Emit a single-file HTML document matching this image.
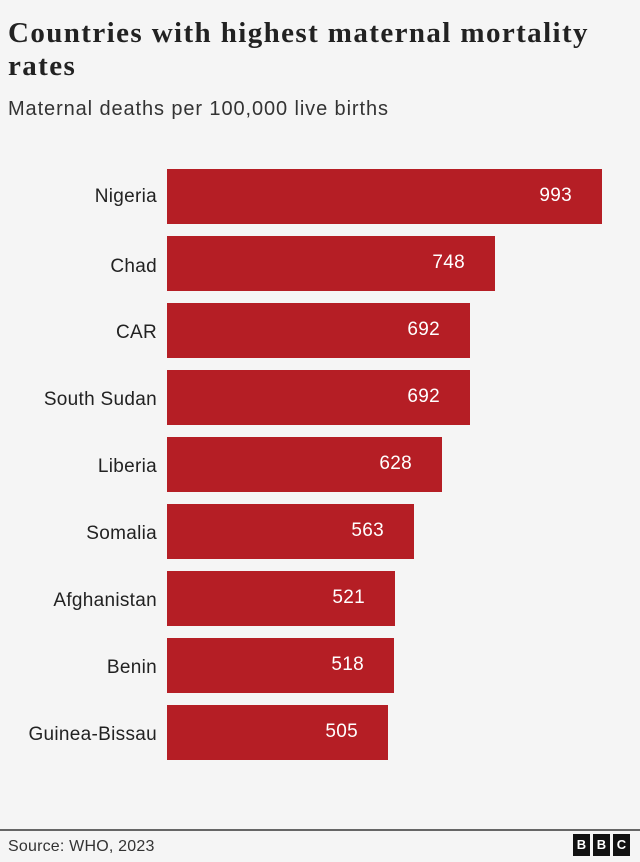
<!DOCTYPE html>
<html><head><meta charset="utf-8"><style>
body{margin:0;width:640px;height:862px;background:#f5f5f5;font-family:"Liberation Sans",sans-serif;position:relative;overflow:hidden}
.t{position:absolute;left:8px;top:17px;font-family:"Liberation Serif",serif;font-size:29px;line-height:33px;color:#222;font-weight:bold;letter-spacing:1.4px}
.s{position:absolute;left:8px;top:98px;font-size:20px;color:#333;letter-spacing:0.9px}
.l{position:absolute;right:483px;font-size:19px;color:#222;text-align:right;white-space:nowrap;letter-spacing:0.3px}
.b{position:absolute;left:167px;height:55px;background:#b51e25}
.v{position:absolute;right:30px;top:16px;color:#fff;font-size:19px;letter-spacing:0.3px}
.line{position:absolute;left:0;width:640px;top:829px;height:2px;background:#666}
.src{position:absolute;left:8px;top:838px;font-size:16px;color:#333;letter-spacing:0.2px}
.bbc{position:absolute;top:834px;width:17px;height:22px;background:#111;color:#fff;font-weight:bold;font-size:13px;text-align:center;line-height:22px}
</style></head><body>
<div class="t">Countries with highest maternal mortality<br>rates</div>
<div class="s">Maternal deaths per 100,000 live births</div>

<div class="l" style="top:186px">Nigeria</div><div class="b" style="top:169px;width:435px"><span class="v">993</span></div>
<div class="l" style="top:256px">Chad</div><div class="b" style="top:236px;width:328px"><span class="v">748</span></div>
<div class="l" style="top:322px">CAR</div><div class="b" style="top:303px;width:303px"><span class="v">692</span></div>
<div class="l" style="top:389px">South Sudan</div><div class="b" style="top:370px;width:303px"><span class="v">692</span></div>
<div class="l" style="top:456px">Liberia</div><div class="b" style="top:437px;width:275px"><span class="v">628</span></div>
<div class="l" style="top:523px">Somalia</div><div class="b" style="top:504px;width:247px"><span class="v">563</span></div>
<div class="l" style="top:590px">Afghanistan</div><div class="b" style="top:571px;width:228px"><span class="v">521</span></div>
<div class="l" style="top:657px">Benin</div><div class="b" style="top:638px;width:227px"><span class="v">518</span></div>
<div class="l" style="top:724px">Guinea-Bissau</div><div class="b" style="top:705px;width:221px"><span class="v">505</span></div>

<div class="line"></div>
<div class="src">Source: WHO, 2023</div>
<div class="bbc" style="left:573px">B</div><div class="bbc" style="left:593px">B</div><div class="bbc" style="left:613px">C</div>
</body></html>
